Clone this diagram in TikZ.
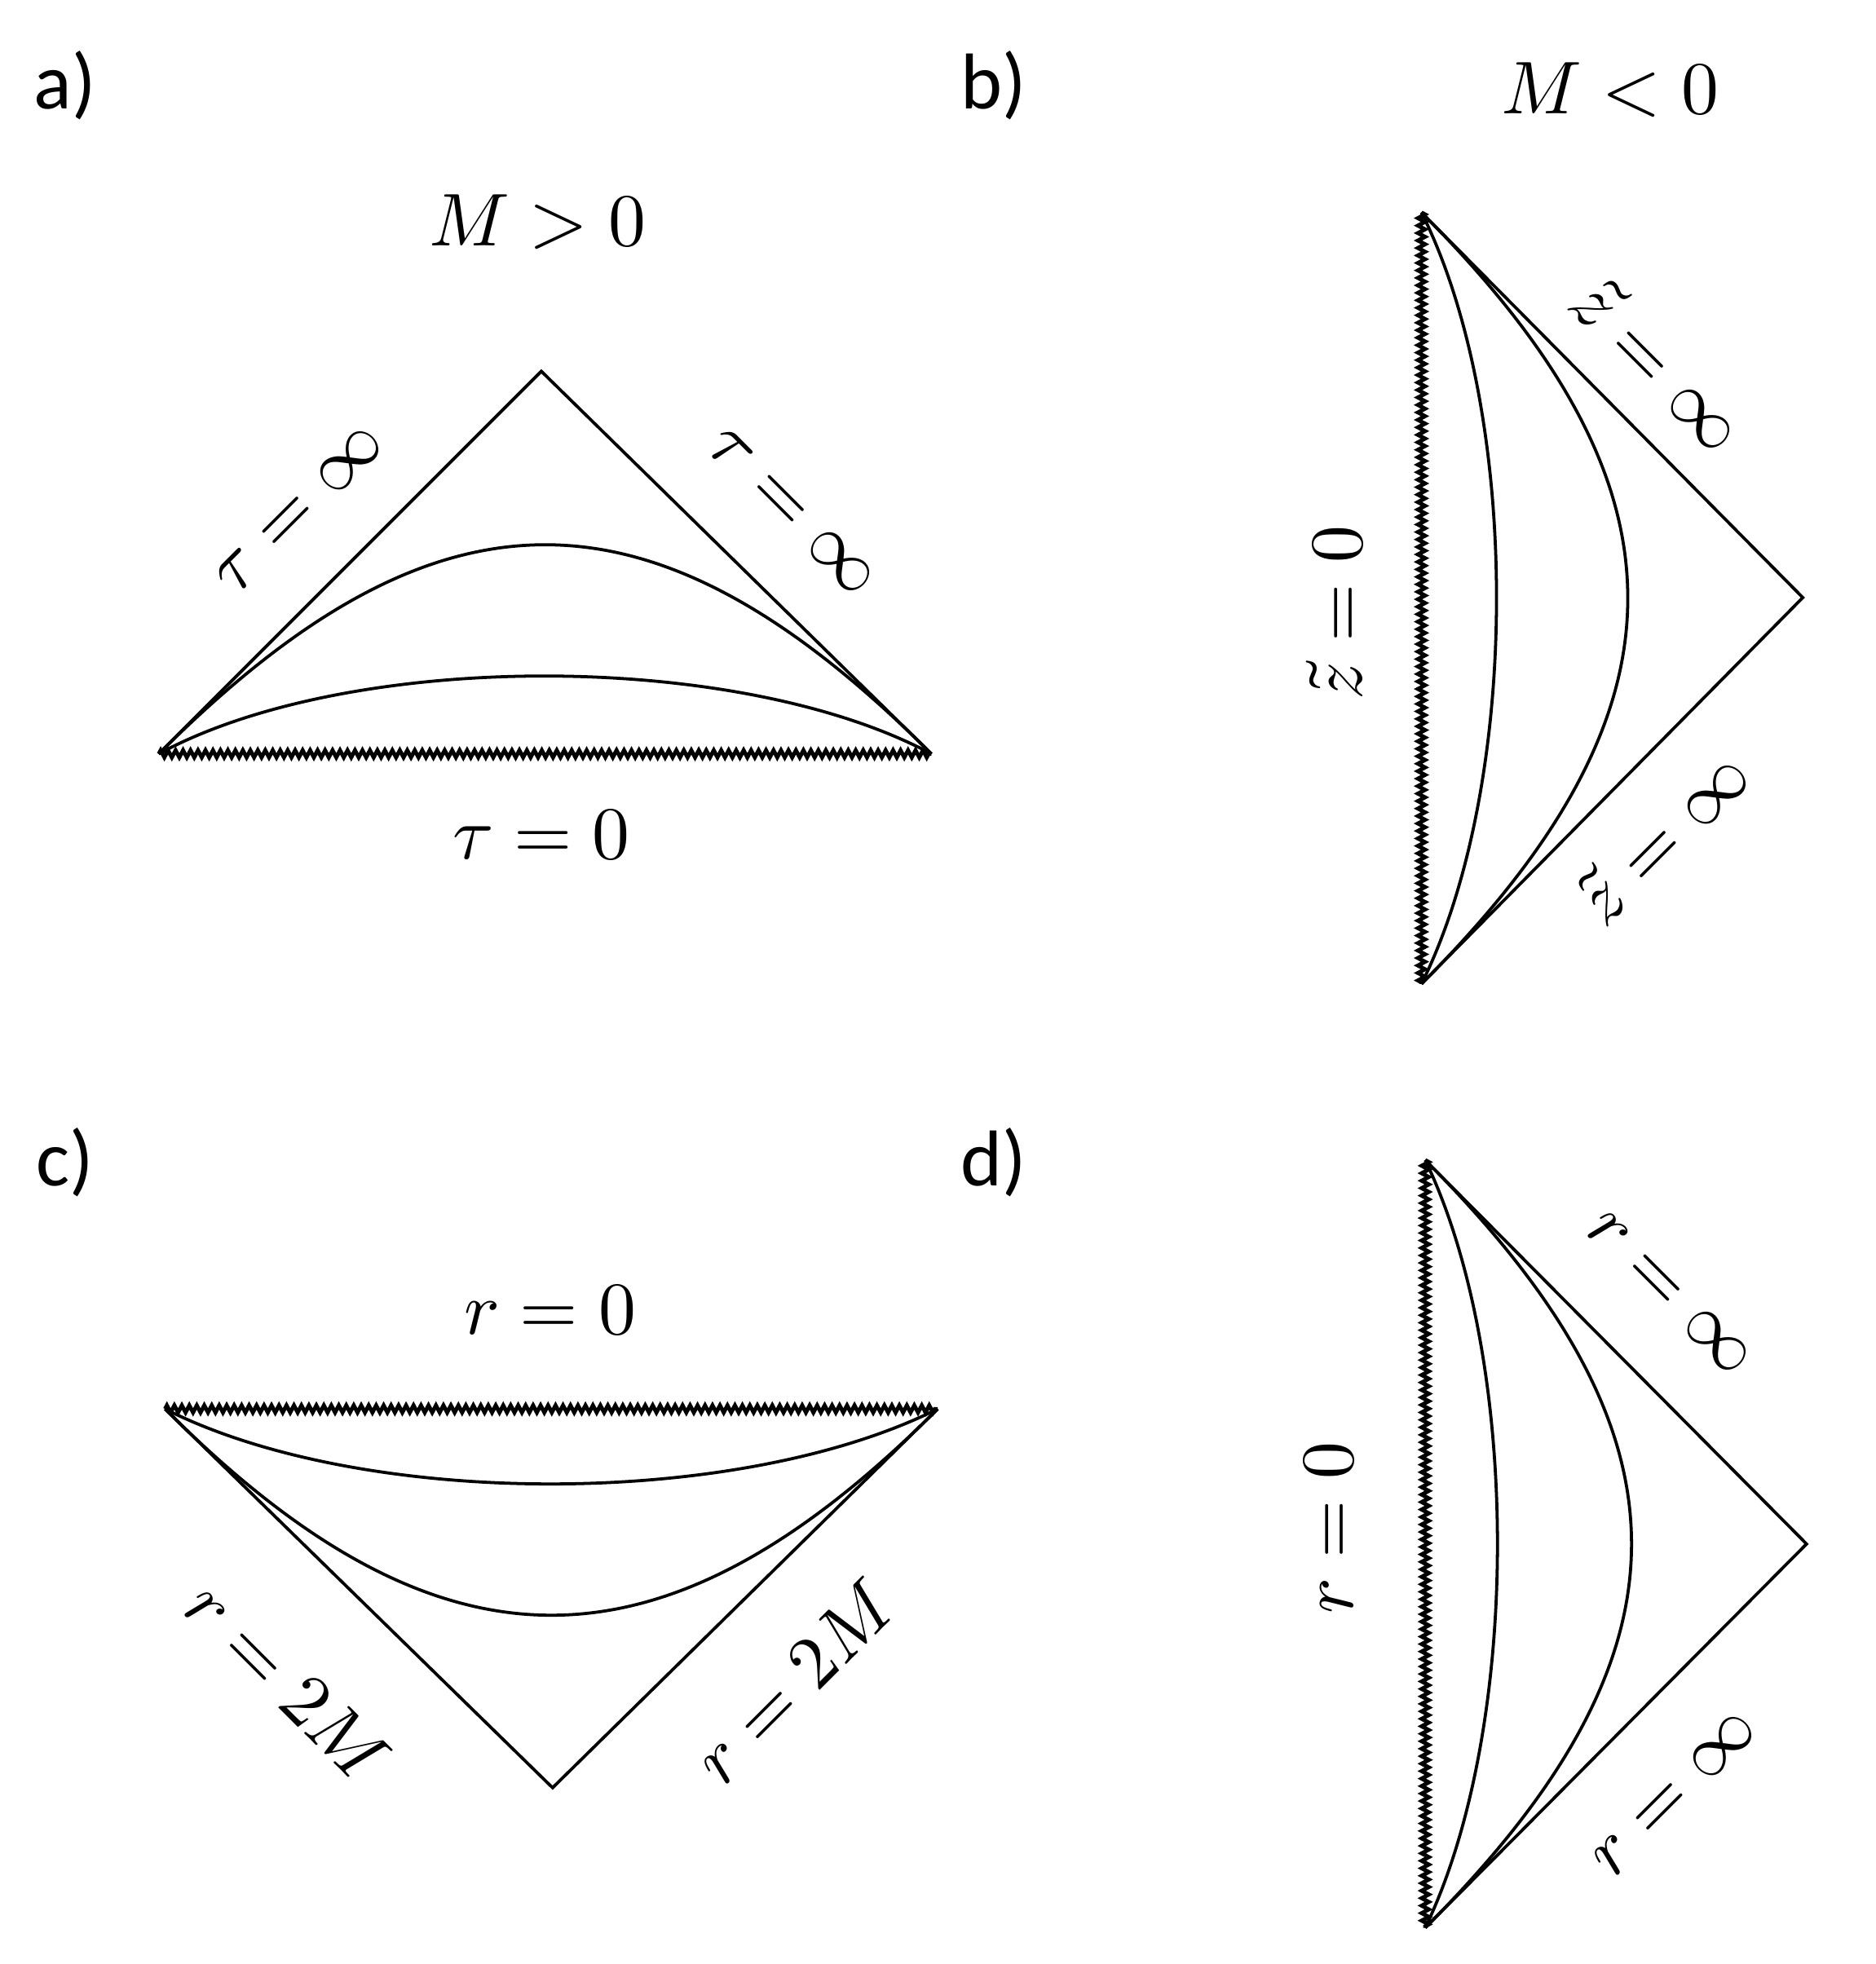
\documentclass[tikz,border=0pt]{standalone}
\usepackage{fontspec}
\usepackage{unicode-math}
\newfontfamily\lab{Carlito}
\usetikzlibrary{decorations.pathmorphing}
\begin{document}
\begin{tikzpicture}[x=0.01cm,y=-0.01cm,line width=0.7pt,
  wav/.style={decorate,decoration={zigzag,segment length=1.7pt,amplitude=0.8pt},line width=0.9pt},
  lbl/.style={font=\fontsize{17}{20}\selectfont},
  pl/.style={font=\lab\fontsize{18}{22}\selectfont}]
\useasboundingbox (0,0) rectangle (1500,1571);
% a
\coordinate (aT) at (433,297); \coordinate (aL) at (127,603); \coordinate (aR) at (745,603);
\draw (aL) -- (aT) -- (aR);
\draw[wav] (aL) -- (aR);
\draw (aL) .. controls (350,380) and (522,380) .. (aR);
\draw (aL) .. controls (280,520) and (590,520) .. (aR);
\node[pl] (la) at (52,68) {a)};
\node[lbl] (ma) at (430,178) {$M>0$};
\node[lbl,rotate=45] (ta1) at (240,408) {$\tau=\infty$};
\node[lbl,rotate=-45] (ta2) at (633,410) {$\tau=\infty$};
\node[lbl] (ta3) at (433,668) {$\tau=0$};
% b
\coordinate (bT) at (1137,170); \coordinate (bB) at (1137,787); \coordinate (bR) at (1442,478);
\draw (bT) -- (bR) -- (bB);
\draw[wav] (bT) -- (bB);
\draw (bT) .. controls (1217,330) and (1217,626) .. (bB);
\draw (bT) .. controls (1357,390) and (1357,567) .. (bB);
\node[pl] (lb) at (795,68) {b)};
\node[lbl] (mb) at (1288,72) {$M<0$};
\node[lbl,rotate=90] (zb1) at (1068,490) {$\tilde z=0$};
\node[lbl,rotate=-45] (zb2) at (1328,290) {$\tilde z=\infty$};
\node[lbl,rotate=45] (zb3) at (1328,668) {$\tilde z=\infty$};
% c
\coordinate (cL) at (132,1127); \coordinate (cR) at (750,1127); \coordinate (cB) at (442,1430);
\draw (cL) -- (cB) -- (cR);
\draw[wav] (cL) -- (cR);
\draw (cL) .. controls (290,1207) and (590,1207) .. (cR);
\draw (cL) .. controls (352,1347) and (530,1347) .. (cR);
\node[pl] (lc) at (52,930) {c)};
\node[lbl] (rc1) at (440,1048) {$r=0$};
\node[lbl,rotate=-45] (rc2) at (230,1345) {$r=2M$};
\node[lbl,rotate=45] (rc3) at (635,1345) {$r=2M$};
% d
\coordinate (dT) at (1140,928); \coordinate (dB) at (1140,1542); \coordinate (dR) at (1445,1235);
\draw (dT) -- (dR) -- (dB);
\draw[wav] (dT) -- (dB);
\draw (dT) .. controls (1217,1088) and (1217,1382) .. (dB);
\draw (dT) .. controls (1360,1148) and (1360,1322) .. (dB);
\node[pl] (ld) at (795,930) {d)};
\node[lbl,rotate=90] (rd1) at (1063,1222) {$r=0$};
\node[lbl,rotate=-45] (rd2) at (1335,1035) {$r=\infty$};
\node[lbl,rotate=45] (rd3) at (1340,1435) {$r=\infty$};
\end{tikzpicture}
\end{document}
